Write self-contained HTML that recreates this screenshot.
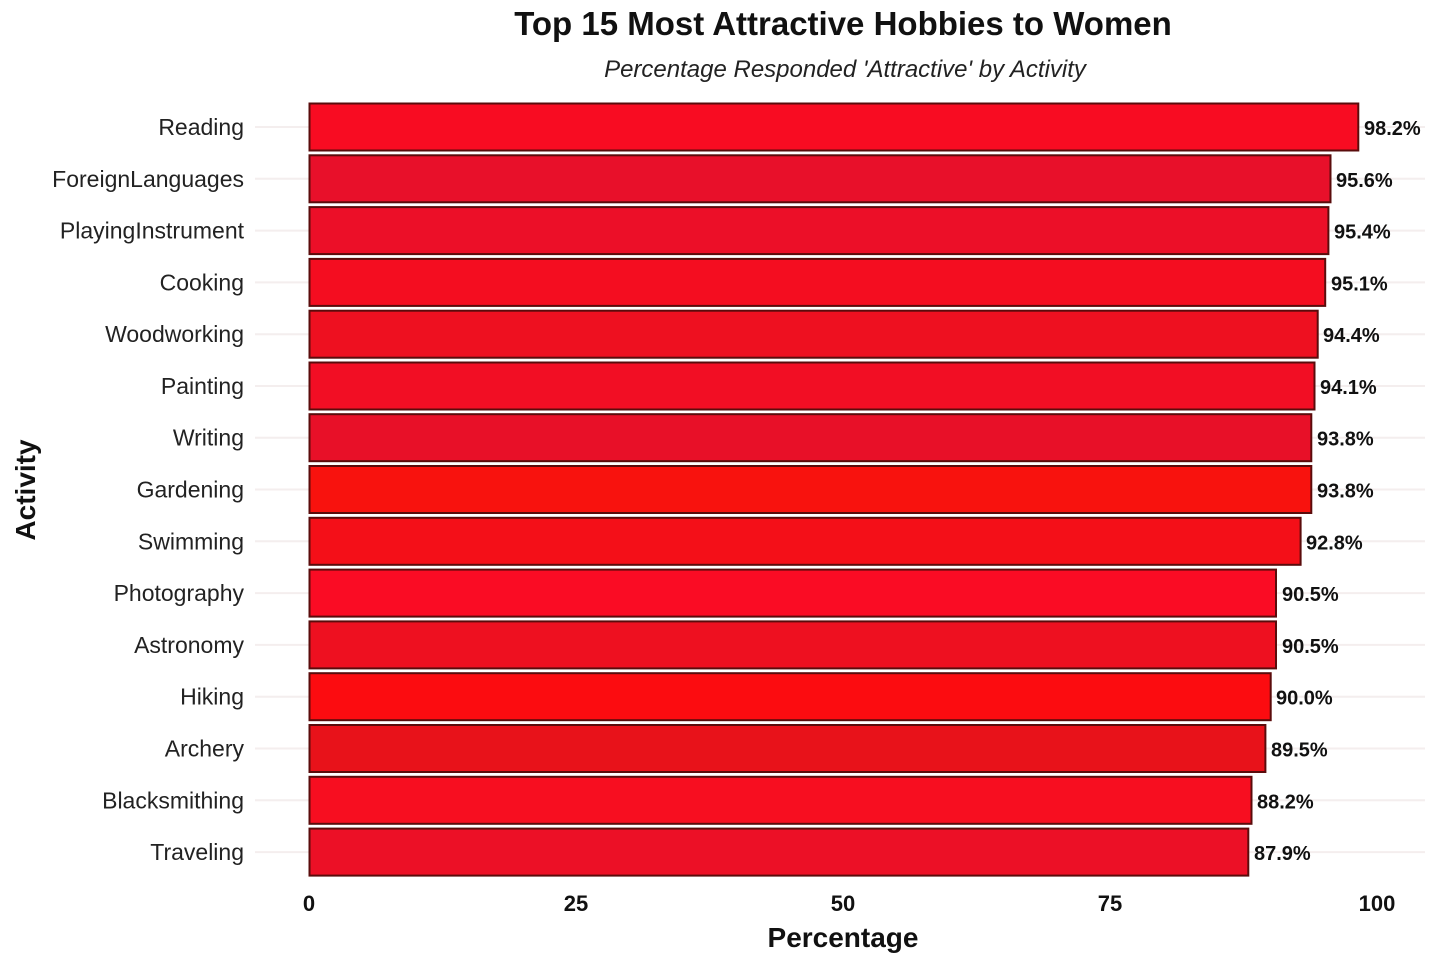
<!DOCTYPE html><html><head><style>body{margin:0;background:#fff}</style></head><body>
<svg width="1440" height="963" xmlns="http://www.w3.org/2000/svg" font-family="Liberation Sans, sans-serif">
<rect width="1440" height="963" fill="#fff"/>
<text x="843" y="35" text-anchor="middle" font-size="33" font-weight="bold" fill="#111">Top 15 Most Attractive Hobbies to Women</text>
<text x="845" y="77" text-anchor="middle" font-size="24" font-style="italic" fill="#222">Percentage Responded 'Attractive' by Activity</text>
<text x="35" y="490" text-anchor="middle" font-size="28" font-weight="bold" fill="#111" transform="rotate(-90 35 490)">Activity</text>
<text x="843" y="947" text-anchor="middle" font-size="28" font-weight="bold" fill="#111">Percentage</text>
<g font-size="22" font-weight="bold" fill="#111" text-anchor="middle">
<text x="309" y="911">0</text><text x="576" y="911">25</text><text x="843" y="911">50</text><text x="1110" y="911">75</text><text x="1377" y="911">100</text></g>
<g stroke="#f4eeee" stroke-width="2">
<line x1="255" x2="1425" y1="127" y2="127"/><line x1="255" x2="1425" y1="178.8" y2="178.8"/><line x1="255" x2="1425" y1="230.6" y2="230.6"/><line x1="255" x2="1425" y1="282.4" y2="282.4"/><line x1="255" x2="1425" y1="334.2" y2="334.2"/><line x1="255" x2="1425" y1="386" y2="386"/><line x1="255" x2="1425" y1="437.7" y2="437.7"/><line x1="255" x2="1425" y1="489.5" y2="489.5"/><line x1="255" x2="1425" y1="541.3" y2="541.3"/><line x1="255" x2="1425" y1="593.1" y2="593.1"/><line x1="255" x2="1425" y1="644.9" y2="644.9"/><line x1="255" x2="1425" y1="696.7" y2="696.7"/><line x1="255" x2="1425" y1="748.5" y2="748.5"/><line x1="255" x2="1425" y1="800.3" y2="800.3"/><line x1="255" x2="1425" y1="852.1" y2="852.1"/>
</g>
<g stroke="#5a0c0c" stroke-width="2">
<rect x="309.5" y="103.5" width="1048.8" height="47" fill="#f80c22"/>
<rect x="309.5" y="155.3" width="1021.0" height="47" fill="#e8102a"/>
<rect x="309.5" y="207.1" width="1018.9" height="47" fill="#ec0f28"/>
<rect x="309.5" y="258.9" width="1015.7" height="47" fill="#f40d20"/>
<rect x="309.5" y="310.7" width="1008.2" height="47" fill="#ee1020"/>
<rect x="309.5" y="362.5" width="1005.0" height="47" fill="#f20e24"/>
<rect x="309.5" y="414.2" width="1001.8" height="47" fill="#e81028"/>
<rect x="309.5" y="466.0" width="1001.8" height="47" fill="#f8120e"/>
<rect x="309.5" y="517.8" width="991.1" height="47" fill="#f40f18"/>
<rect x="309.5" y="569.6" width="966.5" height="47" fill="#fa0c24"/>
<rect x="309.5" y="621.4" width="966.5" height="47" fill="#ee1020"/>
<rect x="309.5" y="673.2" width="961.2" height="47" fill="#fc0c10"/>
<rect x="309.5" y="725.0" width="955.9" height="47" fill="#e8121a"/>
<rect x="309.5" y="776.8" width="942.0" height="47" fill="#f70e20"/>
<rect x="309.5" y="828.6" width="938.8" height="47" fill="#ec1026"/>
</g>
<g font-size="23" fill="#222" text-anchor="end">
<text x="244" y="135">Reading</text><text x="244" y="186.8">ForeignLanguages</text><text x="244" y="238.6">PlayingInstrument</text><text x="244" y="290.4">Cooking</text><text x="244" y="342.2">Woodworking</text><text x="244" y="394">Painting</text><text x="244" y="445.7">Writing</text><text x="244" y="497.5">Gardening</text><text x="244" y="549.3">Swimming</text><text x="244" y="601.1">Photography</text><text x="244" y="652.9">Astronomy</text><text x="244" y="704.7">Hiking</text><text x="244" y="756.5">Archery</text><text x="244" y="808.3">Blacksmithing</text><text x="244" y="860.1">Traveling</text>
</g>
<g font-size="20" font-weight="bold" fill="#111">
<text x="1364" y="135">98.2%</text><text x="1336" y="186.8">95.6%</text><text x="1334" y="238.6">95.4%</text><text x="1331" y="290.4">95.1%</text><text x="1323" y="342.2">94.4%</text><text x="1320" y="394">94.1%</text><text x="1317" y="445.7">93.8%</text><text x="1317" y="497.5">93.8%</text><text x="1306" y="549.3">92.8%</text><text x="1282" y="601.1">90.5%</text><text x="1282" y="652.9">90.5%</text><text x="1276" y="704.7">90.0%</text><text x="1271" y="756.5">89.5%</text><text x="1257" y="808.3">88.2%</text><text x="1254" y="860.1">87.9%</text>
</g>
</svg></body></html>
